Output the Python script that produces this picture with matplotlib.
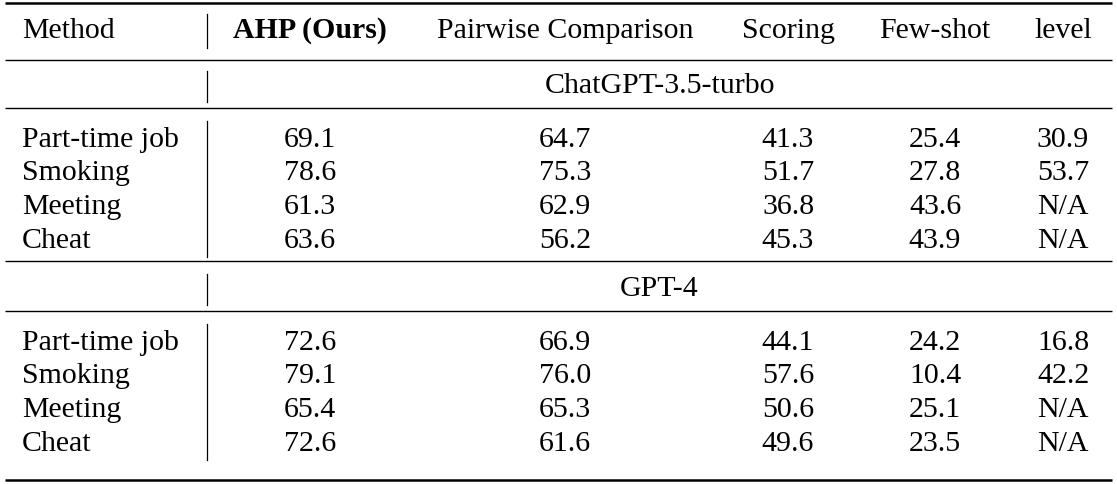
import matplotlib
matplotlib.use("Agg")
import matplotlib.pyplot as plt

columns = ["Method", "AHP (Ours)", "Pairwise Comparison", "Scoring", "Few-shot", "level"]
tasks = ["Part-time job", "Smoking", "Meeting", "Cheat"]
groups = ["ChatGPT-3.5-turbo", "GPT-4"]
values = {
    "ChatGPT-3.5-turbo": [
        ["69.1", "64.7", "41.3", "25.4", "30.9"],
        ["78.6", "75.3", "51.7", "27.8", "53.7"],
        ["61.3", "62.9", "36.8", "43.6", "N/A"],
        ["63.6", "56.2", "45.3", "43.9", "N/A"],
    ],
    "GPT-4": [
        ["72.6", "66.9", "44.1", "24.2", "16.8"],
        ["79.1", "76.0", "57.6", "10.4", "42.2"],
        ["65.4", "65.3", "50.6", "25.1", "N/A"],
        ["72.6", "61.6", "49.6", "23.5", "N/A"],
    ],
}

W, H = 1117, 484
fig = plt.figure(figsize=(W / 100, H / 100), dpi=100)
ax = fig.add_axes([0, 0, 1, 1])
ax.set_xlim(0, W)
ax.set_ylim(H, 0)
ax.axis("off")

plt.rcParams["font.family"] = ["Liberation Serif", "DejaVu Serif"]
fs = 21.5
col_x = [310, 565, 788, 935, 1063]
bar_x = 207
x0, x1 = 5, 1112
off = 8  # baseline offset below visual centre


def hline(y, lw=1.0):
    ax.plot([x0, x1], [y, y], color="black", lw=lw, solid_capstyle="butt")


def vbar(ya, yb):
    ax.plot([bar_x, bar_x], [ya, yb], color="black", lw=0.9)


def txt(x, y, s, ha="center", **kw):
    ax.text(x, y + off, s, fontsize=fs, va="baseline", ha=ha, **kw)


hline(3, 1.8)
txt(22, 30, columns[0], ha="left")
for j, c in enumerate(columns[1:]):
    txt(col_x[j], 30, c, fontweight="bold" if j == 0 else "normal")
vbar(14, 48)
hline(60)

starts = [85, 288]
for g, y in zip(groups, starts):
    vbar(y - 14, y + 17)
    txt((bar_x + x1) / 2, y, g)
    hline(y + 23)
    ry = [y + 54, y + 87, y + 121, y + 155]
    vbar(y + 36, y + 172)
    for i, t in enumerate(tasks):
        txt(22, ry[i], t, ha="left")
        for j, v in enumerate(values[g][i]):
            txt(col_x[j], ry[i], v)

hline(261)
hline(480, 1.8)

fig.savefig("out.png", dpi=100)
